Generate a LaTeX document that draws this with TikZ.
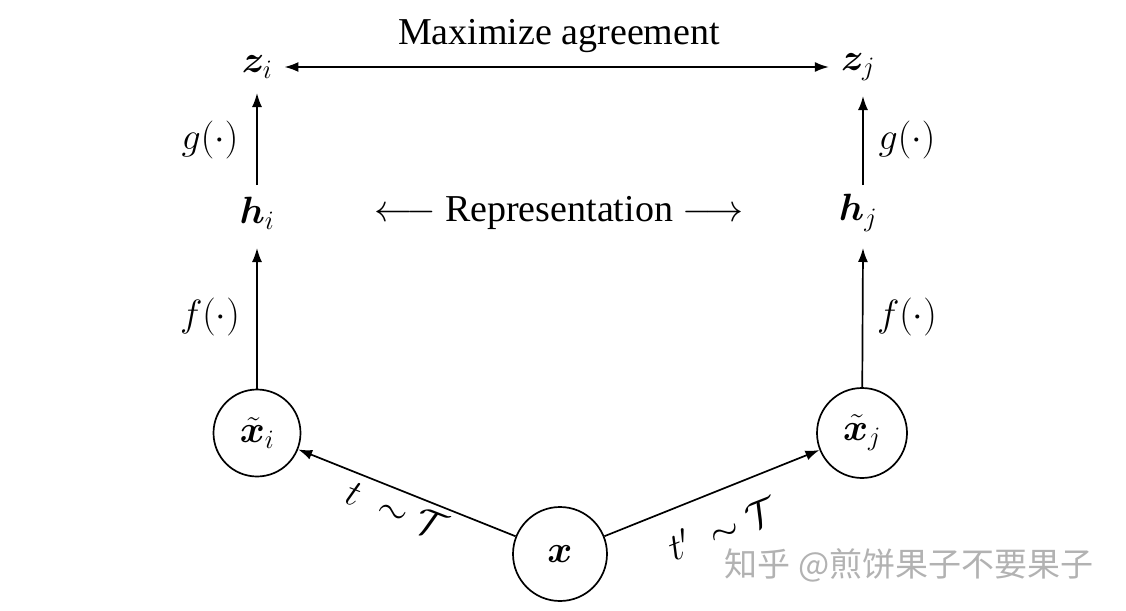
\RequirePackage{fix-cm}
\documentclass[tikz,border=0pt]{standalone}
\usepackage{amsmath,bm}
\usepackage{fontspec}
\setmainfont{Liberation Serif}
\newfontfamily\cjk{Noto Sans CJK SC}
\usetikzlibrary{arrows.meta}
\begin{document}
\begin{tikzpicture}[x=1pt,y=-1pt,
  every node/.style={font=\fontsize{38}{44}\selectfont},
  mathnode/.style={inner sep=2pt},
  circ/.style={draw,circle,line width=1.7pt,inner sep=0pt},
  conn/.style={line width=1.7pt,-{Latex[length=14pt,width=10pt]}},
  lab/.style={inner sep=0pt}]
\useasboundingbox (0,0) rectangle (1126,610);
\node[mathnode,inner xsep=12pt] (zi) at (257,67) {$\bm{z}_i$};
\node[mathnode,inner xsep=12pt] (zj) at (858,67) {$\bm{z}_j$};
\node[mathnode] (hi) at (257,213) {$\bm{h}_i$};
\node[mathnode] (hj) at (858,213) {$\bm{h}_j$};
\node[circ,minimum size=87pt] (xti) at (257,433) {$\tilde{\bm{x}}_i$};
\node[circ,minimum size=90pt] (xtj) at (862,433) {$\tilde{\bm{x}}_j$};
\node[circ,minimum size=94pt] (x) at (560,554) {$\bm{x}$};
\node[lab] (maxag) at (559,36) {Maximize agreement};
\node[lab] (rep) at (559,213) {$\longleftarrow$ Representation $\longrightarrow$};
\draw[conn,{Latex[length=14pt,width=10pt]}-{Latex[length=14pt,width=10pt]}] (zi) -- (zj);
\draw[conn] (257,185) coordinate (hit) -- (257,93) coordinate (zib);
\draw[conn] (863,185) coordinate (hjt) -- (863,96) coordinate (zjb);
\draw[conn] (xti) -- (257,248) coordinate (hib);
\draw[conn] (xtj) -- (863,248) coordinate (hjb);
\draw[conn] (x) -- (xti);
\draw[conn] (x) -- (xtj);
\node[lab] (g1) at (210,140) {$g(\cdot)$};
\node[lab] (g2) at (907,140) {$g(\cdot)$};
\node[lab] (f1) at (210,317) {$f(\cdot)$};
\node[lab] (f2) at (907,317) {$f(\cdot)$};
\node[lab,rotate=-21.4] (t1) at (397,510) {$t\;\sim\mathcal{T}$};
\node[lab,rotate=21.4] (t2) at (722,528) {$t'\;\sim\mathcal{T}$};
\node[lab,text=black!30,font=\cjk\fontsize{33}{40}\selectfont] (wm) at (909,565) {知乎 @煎饼果子不要果子};
\end{tikzpicture}
\end{document}
